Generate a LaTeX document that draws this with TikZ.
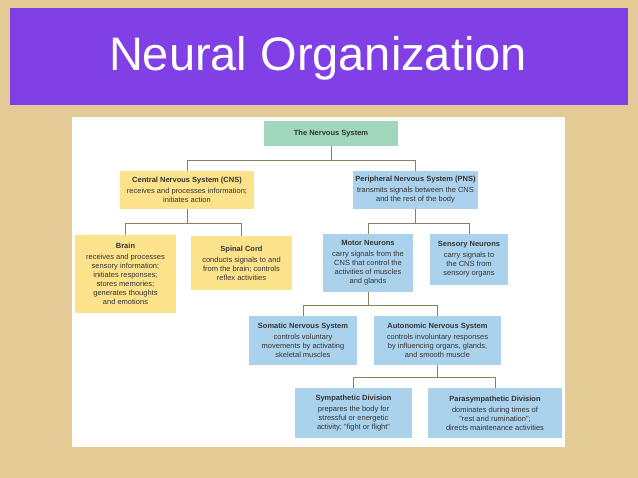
\documentclass[tikz,border=0pt]{standalone}
\usepackage{fontspec}
\setmainfont{Liberation Sans}
\begin{document}
\begin{tikzpicture}[x=1pt,y=-1pt,
  ln/.style={draw=black!55!olive!70,line width=1pt}]
\definecolor{parch}{RGB}{228,203,150}
\definecolor{purp}{RGB}{128,64,230}
\definecolor{grn}{RGB}{160,215,188}
\definecolor{yel}{RGB}{253,226,140}
\definecolor{blu}{RGB}{170,210,236}
\fill[parch] (0,0) rectangle (638,478);
\useasboundingbox (0,0) rectangle (638,478);
\fill[purp] (10,8) rectangle (628,105);
\node[text=white,font=\fontsize{47}{52}\selectfont] (title) at (318,58) {Neural Organization};
\fill[white] (72,117) rectangle (565,447);
\newcommand\mybox[7]{% name, x1,y1,x2,y2, colour, text
  \fill[#6] (#2,#3) rectangle (#4,#5);
  \node[inner sep=0pt,align=center,font=\fontsize{7.5}{9}\selectfont,text=black!80] (#1) at ({(#2+#4)/2},{(#3+#5)/2}) {#7};
  \coordinate (#1t) at ({(#2+#4)/2},#3);
  \coordinate (#1b) at ({(#2+#4)/2},#5);}
\mybox{ns}{264}{121}{398}{146}{grn}{\textbf{The Nervous System}}
\mybox{cns}{120}{171}{254}{209}{yel}{\textbf{Central Nervous System (CNS)}\\[2pt]receives and processes information;\\initiates action}
\mybox{pns}{353}{171}{478}{209}{blu}{\textbf{Peripheral Nervous System (PNS)}\\[2pt]transmits signals between the CNS\\and the rest of the body}
\mybox{brain}{75}{235}{176}{313}{yel}{\textbf{Brain}\\[2pt]receives and processes\\sensory information;\\initiates responses;\\stores memories;\\generates thoughts\\and emotions}
\mybox{spinal}{191}{236}{292}{290}{yel}{\textbf{Spinal Cord}\\[2pt]conducts signals to and\\from the brain; controls\\reflex activities}
\mybox{motor}{323}{234}{413}{292}{blu}{\textbf{Motor Neurons}\\[2pt]carry signals from the\\CNS that control the\\activities of muscles\\and glands}
\mybox{sens}{430}{234}{508}{285}{blu}{\textbf{Sensory Neurons}\\[2pt]carry signals to\\the CNS from\\sensory organs}
\mybox{som}{249}{316}{357}{365}{blu}{\textbf{Somatic Nervous System}\\[2pt]controls voluntary\\movements by activating\\skeletal muscles}
\mybox{aut}{374}{316}{501}{365}{blu}{\textbf{Autonomic Nervous System}\\[2pt]controls involuntary responses\\by influencing organs, glands,\\and smooth muscle}
\mybox{sym}{295}{388}{412}{438}{blu}{\textbf{Sympathetic Division}\\[2pt]prepares the body for\\stressful or energetic\\activity; "fight or flight"}
\mybox{para}{428}{388}{562}{438}{blu}{\textbf{Parasympathetic Division}\\[2pt]dominates during times of\\"rest and rumination";\\directs maintenance activities}
\draw[ln] (nsb) |- (cnst |- 0,161) -- (cnst);
\draw[ln] (nsb) |- (pnst |- 0,161) -- (pnst);
\draw[ln] (cnsb) |- (braint |- 0,224) -- (braint);
\draw[ln] (cnsb) |- (spinalt |- 0,224) -- (spinalt);
\draw[ln] (pnsb) |- (motort |- 0,224) -- (motort);
\draw[ln] (pnsb) |- (senst |- 0,224) -- (senst);
\draw[ln] (motorb) |- (somt |- 0,306) -- (somt);
\draw[ln] (motorb) |- (autt |- 0,306) -- (autt);
\draw[ln] (autb) |- (symt |- 0,378) -- (symt);
\draw[ln] (autb) |- (parat |- 0,378) -- (parat);
\end{tikzpicture}
\end{document}
